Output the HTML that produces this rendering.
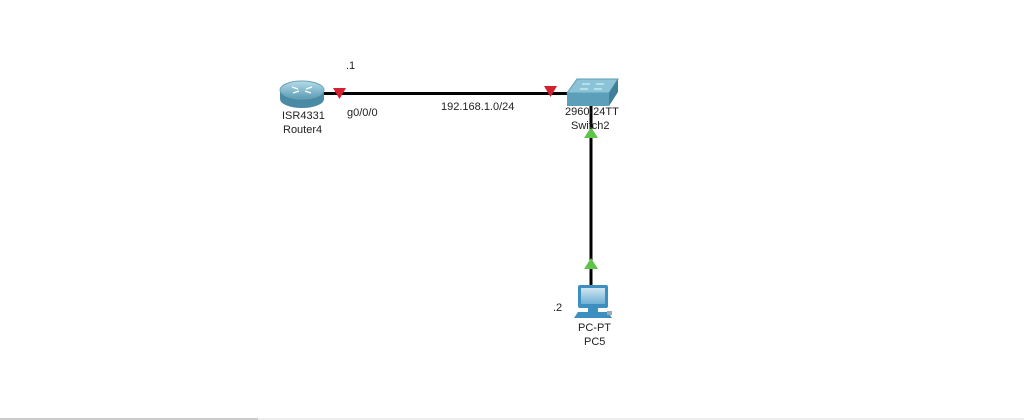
<!DOCTYPE html>
<html><head><style>
html,body{margin:0;padding:0;background:#fff;}
body{width:1024px;height:420px;position:relative;overflow:hidden;font-family:"Liberation Sans",Arial,sans-serif;}
.t{position:absolute;font-size:11px;color:#222;}
</style></head><body>
<svg width="1024" height="420" style="position:absolute;left:0;top:0">
<defs>
<linearGradient id="rg" x1="0" y1="0" x2="0" y2="1"><stop offset="0" stop-color="#b6dbe8"/><stop offset="1" stop-color="#5b9cb5"/></linearGradient>
<linearGradient id="pc" x1="0" y1="0" x2="0" y2="1"><stop offset="0" stop-color="#cfe6f3"/><stop offset="1" stop-color="#6fb0d3"/></linearGradient>
</defs>
<line x1="318" y1="93.5" x2="575" y2="93.5" stroke="#000" stroke-width="3"/>
<line x1="591" y1="105" x2="591" y2="290" stroke="#000" stroke-width="3"/>
<!-- router -->
<path d="M280 90 L280 99 A22 9 0 0 0 324 99 L324 90 Z" fill="#4a8aa4"/>
<ellipse cx="302" cy="90" rx="22" ry="9" fill="url(#rg)" stroke="#6aa3b8"/>
<path d="M292 87 l6 2 M312 87 l-6 2 M293 93 l6 -2 M311 93 l-6 -2" stroke="#fff" stroke-width="1.4"/>
<!-- switch -->
<polygon points="567,93 577,79 618,79 609,93" fill="#8cc3d6" stroke="#5f9cb2"/>
<rect x="567" y="93" width="42" height="13" fill="#5b9fba"/>
<polygon points="609,93 618,79 618,92 609,106" fill="#3e7f99"/>
<path d="M582 84 h8 M596 84 h8 M580 89 h8 M594 89 h8" stroke="#dff" stroke-width="1"/>
<!-- red triangles -->
<polygon points="333,88 346,88 339.5,99" fill="#d52030"/>
<polygon points="544,86 557,86 550.5,97" fill="#d52030"/>
<!-- green -->
<polygon points="584,138 598,138 591,127" fill="#5ec44a"/>
<polygon points="584,269 598,269 591,258" fill="#5ec44a"/>
<!-- pc -->
<rect x="578" y="285" width="30" height="23" rx="2" fill="#3d8fbf"/>
<rect x="581" y="288" width="24" height="16" fill="url(#pc)"/>
<rect x="588" y="308" width="10" height="4" fill="#3d8fbf"/>
<polygon points="578,312 608,312 612,318 574,318" fill="#3d8fbf"/>
<rect x="607" y="311" width="5" height="4" fill="#9ab"/>
<rect x="0" y="418" width="258" height="2" fill="#ccc"/>
<rect x="258" y="418" width="766" height="2" fill="#eee"/>
</svg>
<div class="t" style="left:346px;top:60px">.1</div>
<div class="t" style="left:282px;top:110px">ISR4331</div>
<div class="t" style="left:283px;top:124px">Router4</div>
<div class="t" style="left:347px;top:107px">g0/0/0</div>
<div class="t" style="left:441px;top:101px">192.168.1.0/24</div>
<div class="t" style="left:565px;top:106px">2960-24TT</div>
<div class="t" style="left:571px;top:120px">Switch2</div>
<div class="t" style="left:553px;top:302px">.2</div>
<div class="t" style="left:578px;top:322px">PC-PT</div>
<div class="t" style="left:584px;top:336px">PC5</div>
</body></html>
